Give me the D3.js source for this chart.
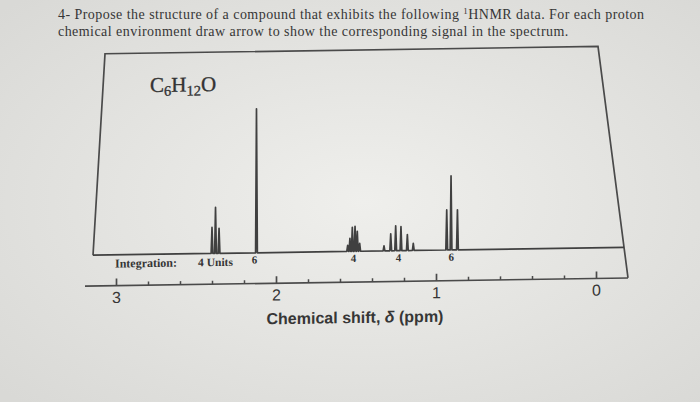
<!DOCTYPE html>
<html>
<head>
<meta charset="utf-8">
<script src="https://cdn.jsdelivr.net/npm/d3@7"></script>
<style>
html,body{margin:0;padding:0;background:#e4e4e1;}
svg{display:block;}
</style>
</head>
<body>
<svg id="chart" width="700" height="402"></svg>
<script>
// ---- data ----
const titleLine1 = "4- Propose the structure of a compound that exhibits the following ";
const titleLine1b = "HNMR data. For each proton";
const titleLine2 = "chemical environment draw arrow to show the corresponding signal in the spectrum.";
const formulaParts = [["C",false],["6",true],["H",false],["12",true],["O",false]];

// individual spectrum lines (ppm) and their heights (arbitrary units)
const lineShifts  = [2.400, 2.378, 2.356,  2.122,  1.552, 1.538, 1.523, 1.506, 1.492, 1.477,
                     1.325, 1.283, 1.252, 1.219, 1.179, 1.142,  0.933, 0.906, 0.866];
const lineHeights = [26, 46, 25,  144,  6, 13, 24, 25, 20, 8,
                     5, 17, 25, 24, 16, 7,  40, 74, 40];

const integrationShifts = [2.378, 2.135, 1.515, 1.235, 0.905];
const integrationLabels = ["4 Units", "6", "4", "4", "6"];

const majorTicks = [3, 2, 1, 0];
const minorTicks = [2.8, 2.6, 2.4, 2.2, 1.8, 1.6, 1.4, 1.2, 0.8, 0.6, 0.4, 0.2];
const xTitle = "Chemical shift, ";

// ---- layout ----
const svg = d3.select("#chart");
const defs = svg.append("defs");
const grad = defs.append("radialGradient").attr("id","paper")
  .attr("cx","52%").attr("cy","50%").attr("r","70%");
grad.append("stop").attr("offset","0%").attr("stop-color","#efefec");
grad.append("stop").attr("offset","100%").attr("stop-color","#d9d9d6");
svg.append("rect").attr("width",700).attr("height",402).attr("fill","url(#paper)");

const ink = "#363636";
const lineInk = "#4a4a4a";

// title (kept level)
const t1 = svg.append("text").attr("x",58).attr("y",18.5)
  .attr("font-family","Liberation Serif, serif").attr("font-size",14)
  .attr("letter-spacing",0.45).attr("fill",ink);
t1.append("tspan").text(titleLine1);
t1.append("tspan").attr("font-size",9).attr("dy",-5).text("1");
t1.append("tspan").attr("dy",5).text(titleLine1b);
svg.append("text").attr("x",58).attr("y",35.5)
  .attr("font-family","Liberation Serif, serif").attr("font-size",14)
  .attr("letter-spacing",0.45).attr("fill",ink)
  .text(titleLine2);

const g = svg.append("g")
  .attr("transform","translate(357,0) skewY(-0.85) translate(-357,0)");

const baseY = 251.3, axisY = 282, topY = 50;
const x = d3.scaleLinear().domain([3, 0]).range([116, 596]);
const y = d3.scaleLinear().domain([0, 150]).range([baseY, baseY - 150]);

// frame
const leftTop = [105, topY], leftBot = [93, baseY];
const rightTop = [598, topY], rightBot = [628, axisY];
const rightAtBase = rightTop[0] + (rightBot[0]-rightTop[0])*(baseY-topY)/(axisY-topY);
g.append("path")
  .attr("d", d3.line()([leftBot, leftTop, rightTop, rightBot]))
  .attr("fill","none").attr("stroke",lineInk).attr("stroke-width",1.7);
g.append("line").attr("x1",85).attr("x2",rightBot[0]).attr("y1",axisY).attr("y2",axisY)
  .attr("stroke",lineInk).attr("stroke-width",1.7);

// spectrum
const w = 0.0055;
const pts = [[x.invert(leftBot[0]), 0]];
lineShifts.map((s,i)=>({s, h: lineHeights[i]}))
  .sort((a,b)=>b.s-a.s)
  .forEach(d => { pts.push([d.s + w, 0], [d.s, d.h], [d.s - w, 0]); });
pts.push([x.invert(rightAtBase), 0]);
g.append("path")
  .attr("d", d3.line().x(d=>x(d[0])).y(d=>y(d[1]))(pts))
  .attr("fill","none").attr("stroke","#404040").attr("stroke-width",1.7)
  .attr("stroke-linejoin","round");

// formula
const f = g.append("text").attr("x",150).attr("y",89)
  .attr("font-family","Liberation Serif, serif").attr("font-size",21).attr("fill","#333")
  .attr("stroke","#333").attr("stroke-width",0.35);
let prevSub = false;
formulaParts.forEach(([txt, sub]) => {
  const ts = f.append("tspan").text(txt);
  if (sub) { ts.attr("font-size",14.5).attr("dy", prevSub ? 0 : 4); }
  else if (prevSub) { ts.attr("dy",-4); }
  prevSub = sub;
});

// integration row
g.append("text").attr("x",115).attr("y",264)
  .attr("font-family","Liberation Serif, serif").attr("font-weight","bold")
  .attr("font-size",12).attr("fill",ink).text("Integration:");
g.selectAll("text.integ").data(integrationLabels).join("text").attr("class","integ")
  .attr("x",(d,i)=>x(integrationShifts[i])).attr("y",(d,i)=> i===0 ? 264 : 262)
  .attr("text-anchor","middle")
  .attr("font-family","Liberation Serif, serif").attr("font-weight","bold")
  .attr("font-size",(d,i)=> i===0 ? 11.5 : 11).attr("fill",ink).text(d=>d);

// axis ticks
const axMajor = d3.axisBottom(x).tickValues(majorTicks).tickFormat(d3.format("d"))
  .tickSizeInner(-7).tickSizeOuter(0).tickPadding(6);
const gMaj = g.append("g").attr("transform",`translate(0,${axisY})`).call(axMajor);
gMaj.select(".domain").remove();
gMaj.selectAll(".tick line").attr("stroke",lineInk).attr("stroke-width",1.7);
gMaj.selectAll(".tick text").attr("font-family","Liberation Sans, Arial, sans-serif")
  .attr("font-size",16).attr("fill",ink);

const axMinor = d3.axisBottom(x).tickValues(minorTicks).tickFormat("")
  .tickSizeInner(-3.5).tickSizeOuter(0);
const gMin = g.append("g").attr("transform",`translate(0,${axisY})`).call(axMinor);
gMin.select(".domain").remove();
gMin.selectAll(".tick line").attr("stroke",lineInk).attr("stroke-width",1.5);

// axis title
const xt = g.append("text").attr("x",355).attr("y",323).attr("text-anchor","middle")
  .attr("font-family","Liberation Sans, Arial, sans-serif").attr("font-weight","bold")
  .attr("font-size",16).attr("fill",ink);
xt.append("tspan").text(xTitle);
xt.append("tspan").attr("font-style","italic").text("δ");
xt.append("tspan").text(" (ppm)");
</script>
</body>
</html>
